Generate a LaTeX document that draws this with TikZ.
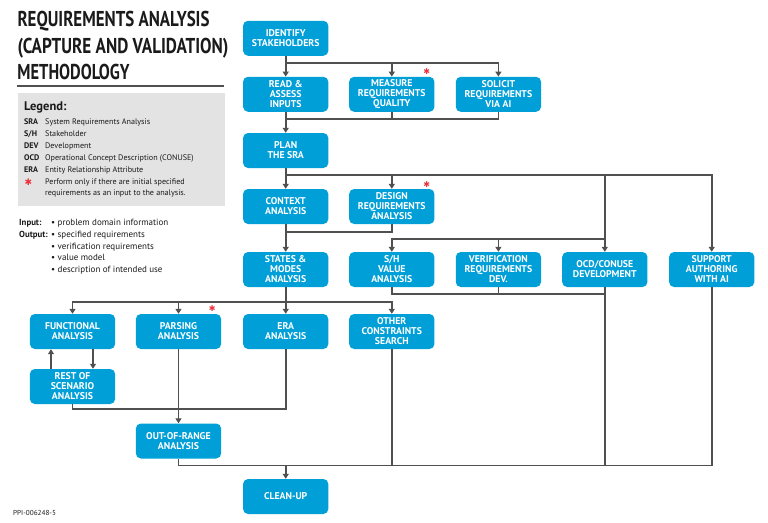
\documentclass[tikz,border=0pt]{standalone}
\usepackage{fontspec}
\setmainfont{PT Sans}
\newfontfamily\symfont{DejaVu Sans}
\usetikzlibrary{arrows.meta,calc}
\definecolor{boxblue}{RGB}{0,159,216}
\definecolor{linegray}{RGB}{80,80,80}
\definecolor{leggray}{RGB}{227,227,227}
\definecolor{astred}{RGB}{232,50,60}
\definecolor{titleblack}{RGB}{26,26,26}
\begin{document}
\begin{tikzpicture}[x=1pt,y=-1pt,
  stepbox/.style={rectangle,rounded corners=5pt,fill=boxblue,minimum width=85.3pt,minimum height=35pt,inner sep=0pt,text=white,align=center,font=\bfseries\fontsize{9.8}{10}\selectfont},
  conn/.style={draw=linegray,line width=1.7pt},
  arr/.style={conn,-{Triangle[width=6pt,length=5pt]}},
  ast/.style={inner sep=0pt,text=astred,font=\symfont\fontsize{8}{8}\selectfont},
  titletxt/.style={anchor=base west,inner sep=0pt,text=titleblack},
  legtxt/.style={anchor=base west,inner sep=0pt,font=\fontsize{8.1}{9}\selectfont,text=titleblack},
  legabb/.style={anchor=base west,inner sep=0pt,font=\bfseries\fontsize{8.1}{9}\selectfont,text=titleblack},
  iotxt/.style={anchor=base west,inner sep=0pt,font=\fontsize{9}{9}\selectfont,text=titleblack},
  ioabb/.style={anchor=base west,inner sep=0pt,font=\bfseries\fontsize{8.8}{9}\selectfont,text=titleblack}
]
\useasboundingbox (0,0) rectangle (768,522);

% ---------- title ----------
\node[titletxt] (t1) at (17.3,27) {\resizebox{192pt}{\height}{\bfseries\fontsize{21.5}{21.5}\selectfont REQUIREMENTS ANALYSIS}};
\node[titletxt] (t2) at (17.3,53) {\resizebox{211pt}{\height}{\bfseries\fontsize{21.5}{21.5}\selectfont (CAPTURE AND VALIDATION)}};
\node[titletxt] (t3) at (17.3,79) {\resizebox{112pt}{\height}{\bfseries\fontsize{21.5}{21.5}\selectfont METHODOLOGY}};
\coordinate (ruleL) at (17,86);
\coordinate (ruleR) at (224,86);
\draw[draw=linegray,line width=1.3pt] (ruleL) -- (ruleR);

% ---------- legend ----------
\fill[leggray] (18.3,93.3) rectangle (225,206);
\node[anchor=base west,inner sep=0pt,font=\bfseries\fontsize{12.5}{12.5}\selectfont,text=titleblack] (leg) at (24,110) {Legend:};
\node[legabb] (a1) at (24,124.3) {SRA};
\node[legtxt] (d1) at (45,124.3) {System Requirements Analysis};
\node[legabb] (a2) at (24,136.5) {S/H};
\node[legtxt] (d2) at (45,136.5) {Stakeholder};
\node[legabb] (a3) at (24,148.5) {DEV};
\node[legtxt] (d3) at (45,148.5) {Development};
\node[legabb] (a4) at (24,160.5) {OCD};
\node[legtxt] (d4) at (45,160.5) {Operational Concept Description (CONUSE)};
\node[legabb] (a5) at (24,172.5) {ERA};
\node[legtxt] (d5) at (45,172.5) {Entity Relationship Attribute};
\node[ast,font=\symfont\fontsize{9}{9}\selectfont] (a6) at (28.5,182) {✱};
\node[legtxt] (d6) at (45,184.5) {Perform only if there are initial specified};
\node[legtxt] (d7) at (45,195.5) {requirements as an input to the analysis.};

% ---------- input / output ----------
\node[ioabb] (in) at (19,225) {Input:};
\node[iotxt] (in1) at (51,225) {• problem domain information};
\node[ioabb] (out) at (19,237.3) {Output:};
\node[iotxt] (o1) at (51,237.3) {• specified requirements};
\node[iotxt] (o2) at (51,249) {• verification requirements};
\node[iotxt] (o3) at (51,260.7) {• value model};
\node[iotxt] (o4) at (51,272) {• description of intended use};

\node[anchor=base west,inner sep=0pt,font=\fontsize{7.2}{7.2}\selectfont,text=titleblack] (ppi) at (13,515) {PPI-006248-5};

% ---------- boxes ----------
\node[stepbox] (ident)   at (285.7,38.3)  {IDENTIFY\\STAKEHOLDERS};
\node[stepbox] (read)    at (285.7,94.3)  {READ \&\\ASSESS\\INPUTS};
\node[stepbox] (measure) at (391.8,94.3)  {MEASURE\\REQUIREMENTS\\QUALITY};
\node[stepbox] (solicit) at (498.4,94.3)  {SOLICIT\\REQUIREMENTS\\VIA AI};
\node[stepbox] (plan)    at (285.7,150.5) {PLAN\\THE SRA};
\node[stepbox] (context) at (285.7,206.5) {CONTEXT\\ANALYSIS};
\node[stepbox] (design)  at (391.8,206.5) {DESIGN\\REQUIREMENTS\\ANALYSIS};
\node[stepbox] (states)  at (285.7,269.5) {STATES \&\\MODES\\ANALYSIS};
\node[stepbox] (shval)   at (391.8,269.5) {S/H\\VALUE\\ANALYSIS};
\node[stepbox] (verif)   at (498.4,269.5) {VERIFICATION\\REQUIREMENTS\\DEV.};
\node[stepbox] (ocd)     at (604.8,269.5) {OCD/CONUSE\\DEVELOPMENT};
\node[stepbox] (support) at (711.7,269.5) {SUPPORT\\AUTHORING\\WITH AI};
\node[stepbox] (func)    at (72.5,331.5)  {FUNCTIONAL\\ANALYSIS};
\node[stepbox] (parsing) at (178.5,331.5) {PARSING\\ANALYSIS};
\node[stepbox] (era)     at (285.7,331.5) {ERA\\ANALYSIS};
\node[stepbox] (other)   at (391.8,331.5) {OTHER\\CONSTRAINTS\\SEARCH};
\node[stepbox] (rest)    at (72.5,386.5)  {REST OF\\SCENARIO\\ANALYSIS};
\node[stepbox] (oor)     at (178.5,441)   {OUT-OF-RANGE\\ANALYSIS};
\node[stepbox] (clean)   at (285.7,496.5) {CLEAN-UP};

% asterisks
\node[ast] (s1) at (426.7,72)  {✱};
\node[ast] (s2) at (426.7,185) {✱};
\node[ast] (s3) at (212.3,309) {✱};

% ---------- connectors ----------
\coordinate (j1) at (285.7,63.3);
\draw[arr] (ident.south) -- (read.north);
\draw[arr] (j1) -| (measure.north);
\draw[arr] (j1) -| (solicit.north);

\coordinate (j2) at (285.7,119);
\draw[arr] (read.south) -- (plan.north);
\draw[conn] (measure.south) |- (j2);
\draw[conn] (solicit.south) |- (j2);

\coordinate (j3) at (285.7,175);
\draw[arr] (plan.south) -- (context.north);
\draw[arr] (j3) -| (design.north);
\draw[arr] (j3) -| (ocd.north);
\draw[arr] (j3) -| (support.north);

\coordinate (j4) at (285.7,231.7);
\draw[arr] (context.south) -- (states.north);
\draw[conn] (design.south) |- (j4);

\coordinate (j5) at (604.8,239.3);
\draw[arr] (j5) -| (shval.north);
\draw[arr] (j5) -| (verif.north);

\coordinate (j6) at (604.8,294);
\draw[conn] (shval.south) |- (j6);
\draw[conn] (verif.south) |- (j6);

\coordinate (j10) at (285.7,301.7);
\draw[arr] (states.south) -- (era.north);
\draw[arr] (j10) -| (other.north);
\draw[arr] (j10) -| (func.north);
\draw[arr] (j10) -| (parsing.north);

\draw[arr] ([xshift=-21.5pt]rest.north) -- ([xshift=-21.5pt]func.south);
\draw[arr] ([xshift=20.5pt]func.south) -- ([xshift=20.5pt]rest.north);

\coordinate (j11) at (178.5,409);
\draw[arr] (parsing.south) -- (oor.north);
\draw[conn] (era.south) |- (j11);
\draw[conn] (rest.south) |- (j11);

\coordinate (j9) at (285.7,465.5);
\draw[conn] (oor.south) |- (j9);
\draw[conn] (other.south) |- (j9);
\draw[conn] (ocd.south) |- (j9);
\draw[conn] (support.south) |- (j9);
\draw[arr] (j9) -- (clean.north);
\end{tikzpicture}
\end{document}
